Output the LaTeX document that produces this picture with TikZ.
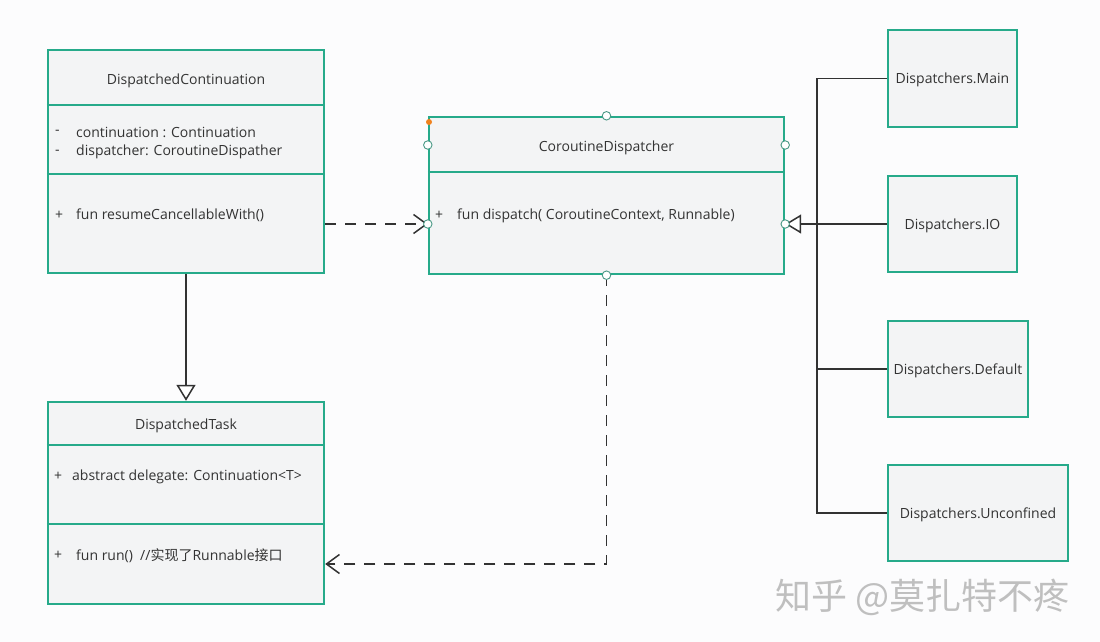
\documentclass[tikz,border=0pt]{standalone}
\usepackage{fontspec}
\setmainfont{Open Sans}
\newfontfamily\cjk{Noto Sans CJK SC}
\usetikzlibrary{arrows.meta,positioning,shapes}
\definecolor{umlgreen}{RGB}{38,170,138}
\definecolor{umlfill}{RGB}{243,244,245}
\definecolor{linegray}{RGB}{50,50,50}
\definecolor{paper}{RGB}{252,252,253}
\definecolor{markorange}{RGB}{240,130,30}

\begin{document}
\begin{tikzpicture}[x=1pt,y=-1pt]
	\tikzstyle{cls}=[draw=umlgreen, line width=2.4pt, fill=umlfill, rectangle, inner sep=0pt]
	\tikzstyle{title}=[font=\fontsize{14}{16}\selectfont, text=black!80]
	\tikzstyle{member}=[font=\fontsize{14}{16}\selectfont, text=black!80, anchor=west, inner sep=0pt]
	\tikzstyle{sep}=[draw=umlgreen, line width=2.4pt]
	\tikzstyle{link}=[draw=linegray, line width=1.5pt]
	\tikzstyle{dep}=[link, dash pattern=on 11pt off 9pt, -{Straight Barb[length=13pt,width=19pt]}]
	\tikzstyle{inherit}=[link, -{Triangle[length=16pt,width=19pt,fill=white]}]
	\tikzstyle{port}=[circle, draw=umlgreen!60!gray, fill=white, line width=0.9pt, inner sep=0pt, minimum size=8.5pt]

	\fill[paper] (0,0) rectangle (1100,642);
	\useasboundingbox (0,0) rectangle (1100,642);

	% classes
	\node[cls, minimum width=276pt, minimum height=223pt] (dc) at (186,161.5) {};
	\node[cls, minimum width=355pt, minimum height=157pt] (cd) at (606.5,195.5) {};
	\node[cls, minimum width=276pt, minimum height=202pt] (dt) at (186,503) {};
	\node[cls, minimum width=129pt, minimum height=97pt] (main) at (952.5,78.5) {};
	\node[cls, minimum width=129pt, minimum height=96pt] (io) at (952.5,224) {};
	\node[cls, minimum width=140pt, minimum height=96pt] (default) at (958,369) {};
	\node[cls, minimum width=180pt, minimum height=96pt] (unconf) at (978,513) {};

	\draw[sep] (dc.west |- 0,105) -- (dc.east |- 0,105);
	\draw[sep] (dc.west |- 0,174) -- (dc.east |- 0,174);
	\draw[sep] (cd.west |- 0,172) -- (cd.east |- 0,172);
	\draw[sep] (dt.west |- 0,445) -- (dt.east |- 0,445);
	\draw[sep] (dt.west |- 0,524) -- (dt.east |- 0,524);

	% texts
	\node[title] (dcname) at (186,80.5) {DispatchedContinuation};
	\node[member] (dcm1) at (55,132) {-};
	\node[member] (dcf1) at (76,132) {continuation : Continuation};
	\node[member] (dcm2) at (55,152) {-};
	\node[member] (dcf2) at (76,152) {dispatcher: CoroutineDispather};
	\node[member] (dcm3) at (55,215.5) {+};
	\node[member] (dcf3) at (76,215.5) {fun resumeCancellableWith()};

	\node[title] (cdname) at (606.5,147.5) {CoroutineDispatcher};
	\node[member] (cdm1) at (435,215.5) {+};
	\node[member] (cdf1) at (457,215.5) {fun dispatch( CoroutineContext, Runnable)};

	\node[title] (dtname) at (186,425.5) {DispatchedTask};
	\node[member] (dtm1) at (54,476.5) {+};
	\node[member] (dtf1) at (72,476.5) {abstract delegate: Continuation<T>};
	\node[member] (dtm2) at (54,555.5) {+};
	\node[member] (dtf2) at (76,555.5) {fun run()\ \ //{\cjk 实现了}Runnable{\cjk 接口}};

	\node[title] at ([yshift=-1.5pt]main) {Dispatchers.Main};
	\node[title] at ([yshift=-1.5pt]io) {Dispatchers.IO};
	\node[title] at ([yshift=-1.5pt]default) {Dispatchers.Default};
	\node[title] at ([yshift=-1.5pt]unconf) {Dispatchers.Unconfined};

	% ports
	\coordinate (cdL) at (cd.west |- 0,224);
	\coordinate (cdR) at (cd.east |- 0,224);
	\coordinate (dtR) at (dt.east |- 0,564);

	% connectors
	\draw[dep] (dc.east |- cdL) -- (cdL);
	\draw[inherit] (dc.south) -- (dt.north);
	\draw[dep] (cd.south) |- (dtR);
	\draw[link] (main.west) -- ++(-70,0) |- (unconf.west);
	\draw[link] (default.west) -- ++(-70,0);
	\draw[inherit] (io.west) -- (cdR);

	\node[port] at (cd.north) {};
	\node[port] at (cd.south) {};
	\node[port] at (cd.west |- 0,145) {};
	\node[port] at (cd.east |- 0,145) {};
	\node[port] at (cdL) {};
	\node[port] at (cdR) {};
	\node[circle, fill=markorange, inner sep=0pt, minimum size=6pt] (mark) at (429,122) {};

	% watermark
	\node[font=\cjk\fontsize{36}{38}\selectfont, text=gray!50, anchor=west] (wm) at (772,597) {知乎 @莫扎特不疼};
\end{tikzpicture}
\end{document}
